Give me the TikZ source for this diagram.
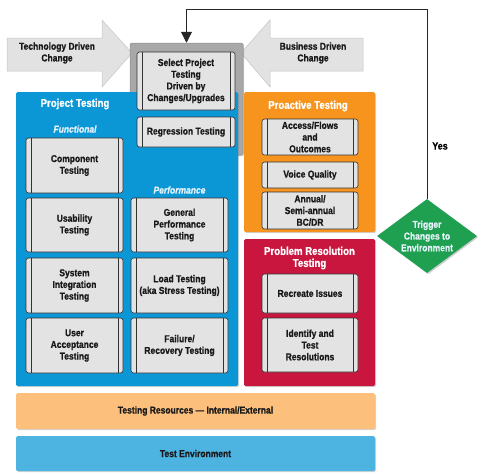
\documentclass[tikz,border=0pt]{standalone}
\usepackage{fontspec}
\setmainfont{Liberation Sans}[FakeStretch=0.85, BoldFeatures={FakeBold=0.8}, BoldItalicFeatures={FakeBold=0.8}]
\usetikzlibrary{shapes.geometric,arrows.meta,shadows,calc}
\definecolor{ptblue}{HTML}{0B96D6}
\definecolor{proorange}{HTML}{F7941E}
\definecolor{probred}{HTML}{C8163F}
\definecolor{resorange}{HTML}{FCC07C}
\definecolor{envblue}{HTML}{4DB4E2}
\definecolor{trgreen}{HTML}{1FA050}
\definecolor{boxgray}{HTML}{E3E3E3}
\definecolor{outergray}{HTML}{A8A8A8}
\definecolor{arrgray}{HTML}{E2E2E2}
\definecolor{arredge}{HTML}{C4C4C4}
\definecolor{titlelight}{HTML}{E6F4FC}
\begin{document}
\begin{tikzpicture}[x=1pt,y=-1pt,
  font=\fontsize{10}{11.7}\selectfont\bfseries,
  proc/.style={draw=black!80, line width=0.6pt, fill=boxgray, rounded corners=2.5pt,
    inner sep=0pt, align=center, text=black!90,
    path picture={\draw[black!80, line width=0.6pt]
      ([xshift=5pt]path picture bounding box.north west) -- ([xshift=5pt]path picture bounding box.south west)
      ([xshift=-5pt]path picture bounding box.north east) -- ([xshift=-5pt]path picture bounding box.south east);}},
  container/.style={fill=#1, rounded corners=1.5pt, inner sep=0pt,
    drop shadow={shadow xshift=1.2pt, shadow yshift=-1.2pt, opacity=0.35}},
  title/.style={text=white, font=\fontsize{11.3}{12}\selectfont\bfseries, align=center, inner sep=0pt},
  subtitle/.style={text=titlelight, font=\fontsize{10}{11}\selectfont\bfseries\itshape, inner sep=0pt},
  bigarrow/.style={fill=arrgray, draw=arredge, line width=0.5pt},
  arrowtext/.style={align=center, inner sep=0pt, text=black!90},
  bar/.style={fill=#1, rounded corners=1.5pt, inner sep=0pt, text=black!90,
    minimum width=359, drop shadow={shadow xshift=1pt, shadow yshift=-1pt, opacity=0.35}},
  feedback/.style={draw=black!85, line width=0.8pt, -{Triangle[width=11pt,length=11pt]}}
]
\useasboundingbox (0,0) rectangle (487,474);

% big input arrows
\draw[bigarrow] (7,38) -- (102,38) -- (102,20) -- (132,53) -- (102,87) -- (102,71) -- (7,71) -- cycle;
\node[arrowtext] (techtxt) at (57,53) {Technology Driven\\Change};
\draw[bigarrow] (363,38) -- (270,38) -- (270,20) -- (241,53) -- (270,87) -- (270,71) -- (363,71) -- cycle;
\node[arrowtext] (bustxt) at (313,53) {Business Driven\\Change};

% containers
\node[container=outergray, draw=black!45, line width=0.5pt, minimum width=113, minimum height=112] (selbox) at (186.5,99) {};
\node[container=ptblue, minimum width=222, minimum height=294] (project) at (127,239) {};
\node[container=proorange, minimum width=131, minimum height=140] (proactive) at (309.5,162) {};
\node[container=probred, minimum width=131, minimum height=147] (problem) at (309.5,312.5) {};

% select box content
\node[proc, minimum width=98, minimum height=58] (select) at (186,81) {Select Project\\Testing\\Driven by\\Changes/Upgrades};
\node[proc, minimum width=98, minimum height=30] (regr) at (186,132) {Regression Testing};

% project testing
\node[title] (pttitle) at (75,104) {Project Testing};
\node[subtitle] (functl) at (75,129) {Functional};
\node[subtitle] (perf) at (179.5,190) {Performance};
\node[proc, minimum width=97, minimum height=55] (comp) at (74.5,165.5) {Component\\Testing};
\node[proc, minimum width=97, minimum height=54] (usab) at (74.5,225) {Usability\\Testing};
\node[proc, minimum width=97, minimum height=55] (sysint) at (74.5,285.5) {System\\Integration\\Testing};
\node[proc, minimum width=97, minimum height=55] (uat) at (74.5,345.5) {User\\Acceptance\\Testing};
\node[proc, minimum width=97, minimum height=54] (gperf) at (179.5,225) {General\\Performance\\Testing};
\node[proc, minimum width=97, minimum height=55] (load) at (179.5,285.5) {Load Testing\\(aka Stress Testing)};
\node[proc, minimum width=97, minimum height=55] (fail) at (179.5,345.5) {Failure/\\Recovery Testing};

% proactive testing
\node[title] (protitle) at (308,106) {Proactive Testing};
\node[proc, minimum width=96, minimum height=36] (access) at (310,137) {Access/Flows\\and\\Outcomes};
\node[proc, minimum width=96, minimum height=26] (voice) at (310,175) {Voice Quality};
\node[proc, minimum width=96, minimum height=37] (annual) at (310,210.5) {Annual/\\Semi-annual\\BC/DR};

% problem resolution
\node[title] (probtitle) at (309.5,258) {Problem Resolution\\Testing};
\node[proc, minimum width=96, minimum height=39] (recreate) at (310,293.5) {Recreate Issues};
\node[proc, minimum width=96, minimum height=54] (identify) at (310,345) {Identify and\\Test\\Resolutions};

% bottom bars
\node[bar=resorange, minimum height=36] (resources) at (195.5,411) {Testing Resources --- Internal/External};
\node[bar=envblue, minimum height=35] (env) at (195.5,453.5) {Test Environment};

% trigger diamond
\node[diamond, aspect=1.35, inner sep=0pt, minimum width=100, minimum height=74, fill=trgreen,
  text=titlelight, align=center, drop shadow={shadow xshift=1.2pt, shadow yshift=-1.2pt, opacity=0.4}]
  (trigger) at (427,236) {Trigger\\Changes to\\Environment};

% feedback connector
\coordinate (fbY) at (0,9);
\draw[feedback] (trigger.north) |- (selbox.north |- fbY) -- (selbox.north);
\node[inner sep=0pt, font=\fontsize{10.5}{12}\selectfont\bfseries] (yes) at (440,146) {Yes};
\end{tikzpicture}
\end{document}
